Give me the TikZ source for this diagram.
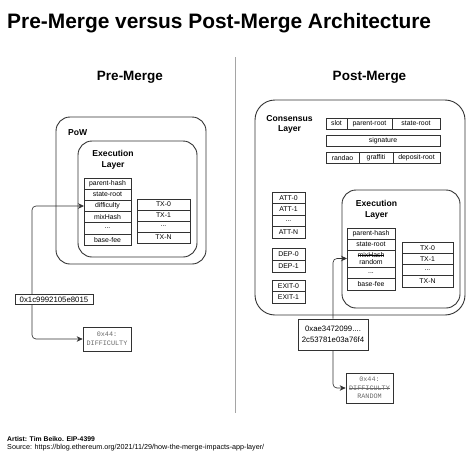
\documentclass[tikz,border=0pt]{standalone}
\usepackage{fontspec}
\setmainfont{Liberation Sans}
\setmonofont{Liberation Mono}
\usetikzlibrary{arrows.meta, positioning}
\definecolor{boxline}{RGB}{50,50,50}
\definecolor{divider}{RGB}{165,165,165}
\definecolor{opgray}{RGB}{105,105,105}
\newcommand{\strikeout}[1]{\mbox{\setbox0=\hbox{#1}\rlap{\rule[0.28em]{\wd0}{0.5pt}}\box0}}

\begin{document}
\begin{tikzpicture}[x=1pt, y=-1pt,
  field/.style={rectangle, draw=boxline, line width=0.65pt, minimum height=11.2pt,
                inner sep=0pt, outer sep=0pt, font=\fontsize{6.9}{7.5}\selectfont,
                align=center},
  layer/.style={rectangle, draw=boxline, line width=0.9pt, rounded corners=14pt},
  heading/.style={font=\bfseries\fontsize{8.6}{10.5}\selectfont, align=center, inner sep=0pt},
  colhead/.style={font=\bfseries\fontsize{13.5}{16}\selectfont, inner sep=0pt},
  hashbox/.style={rectangle, draw=boxline, line width=0.65pt, fill=white, inner sep=0pt,
                  font=\fontsize{7.8}{10.5}\selectfont, align=center},
  opbox/.style={rectangle, draw=boxline, line width=0.65pt, inner sep=0pt,
                font=\ttfamily\fontsize{6.8}{8.5}\selectfont, text=opgray, align=center},
  arrow/.style={-{Stealth[length=6pt, width=5.5pt]}, boxline, line width=0.65pt,
                rounded corners=4pt}
]
\useasboundingbox (0,0) rectangle (474,455);

% title and columns
\node[anchor=base west, inner sep=0pt, font=\bfseries\fontsize{20.9}{24}\selectfont]
  (title) at (7,28) {Pre-Merge versus Post-Merge Architecture};
\draw[divider, line width=1pt] (235,57) -- (235,413);
\node[colhead, anchor=base] (pre)  at (130,80)   {Pre-Merge};
\node[colhead, anchor=base] (post) at (369.5,80) {Post-Merge};

% pre-merge
\node[layer, minimum width=150pt, minimum height=147pt] (pow) at (131,190.5) {};
\node[heading, anchor=base west] (powlbl) at (68,135) {PoW};
\node[layer, minimum width=119pt, minimum height=116pt] (exL) at (137.5,199) {};
\node[heading, anchor=north] (exLlbl) at (113,150.5) {Execution\\Layer};

\node[field, minimum width=47pt, anchor=north] (phL) at (107.5,178) {parent-hash};
\node[field, minimum width=47pt, below=0pt of phL] (srL)  {state-root};
\node[field, minimum width=47pt, below=0pt of srL] (dfL)  {difficulty};
\node[field, minimum width=47pt, below=0pt of dfL] (mhL)  {mixHash};
\node[field, minimum width=47pt, below=0pt of mhL] (dotL) {...};
\node[field, minimum width=47pt, below=0pt of dotL] (bfL) {base-fee};

\node[field, minimum width=53pt, minimum height=11pt, anchor=north] (tx0L) at (163.5,199) {TX-0};
\node[field, minimum width=53pt, minimum height=11pt, below=0pt of tx0L] (tx1L) {TX-1};
\node[field, minimum width=53pt, minimum height=11pt, below=0pt of tx1L] (txdL) {...};
\node[field, minimum width=53pt, minimum height=11pt, below=0pt of txdL] (txnL) {TX-N};

\coordinate (lx) at (32,299.5);
\node[hashbox, minimum width=78pt, minimum height=10pt] (hashL) at (54,299.5) {0x1c9992105e8015};
\node[opbox, minimum width=48pt, minimum height=24pt] (opL) at (107,339) {0x44:\\DIFFICULTY};
\draw[arrow] (lx |- hashL.north) |- (dfL.west);
\draw[arrow] (lx |- hashL.south) |- (opL.west);

% post-merge
\node[layer, rounded corners=20pt, minimum width=210pt, minimum height=215pt] (cons) at (360,207.5) {};
\node[heading, anchor=north] (conslbl) at (289.5,115) {Consensus\\Layer};

\node[field, minimum width=21pt, minimum height=11pt, anchor=north west] (slot) at (326,118) {slot};
\node[field, minimum width=45pt, minimum height=11pt, right=0pt of slot] (prt) {parent-root};
\node[field, minimum width=48pt, minimum height=11pt, right=0pt of prt]  (srt) {state-root};
\node[field, minimum width=114pt, minimum height=11pt, anchor=north west] (sig) at (326,135.5) {signature};
\node[field, minimum width=33pt, minimum height=11pt, anchor=north west] (rnd) at (326,152.5) {randao};
\node[field, minimum width=34pt, minimum height=11pt, right=0pt of rnd] (graf) {graffiti};
\node[field, minimum width=47pt, minimum height=11pt, right=0pt of graf] (dep) {deposit-root};

\node[field, minimum width=33pt, minimum height=11.5pt, anchor=north] (att0) at (288.5,192) {ATT-0};
\node[field, minimum width=33pt, minimum height=11.5pt, below=0pt of att0] (att1) {ATT-1};
\node[field, minimum width=33pt, minimum height=11.5pt, below=0pt of att1] (attd) {...};
\node[field, minimum width=33pt, minimum height=11.5pt, below=0pt of attd] (attn) {ATT-N};
\node[field, minimum width=33pt, minimum height=12pt, anchor=north] (dep0) at (288.5,248) {DEP-0};
\node[field, minimum width=33pt, minimum height=12pt, below=0pt of dep0] (dep1) {DEP-1};
\node[field, minimum width=33pt, minimum height=11.5pt, anchor=north] (ex0) at (288.5,280) {EXIT-0};
\node[field, minimum width=33pt, minimum height=11.5pt, below=0pt of ex0] (ex1) {EXIT-1};

\node[layer, minimum width=118pt, minimum height=118pt] (exR) at (401,249) {};
\node[heading, anchor=north] (exRlbl) at (376.5,200.5) {Execution\\Layer};

\node[field, minimum width=48pt, minimum height=11pt, anchor=north] (phR) at (371,228) {parent-hash};
\node[field, minimum width=48pt, minimum height=11pt, below=0pt of phR] (srR) {state-root};
\node[field, minimum width=48pt, minimum height=17pt, below=0pt of srR] (mrR) {\strikeout{mixHash}\\[0.3pt]random};
\node[field, minimum width=48pt, minimum height=11.5pt, below=0pt of mrR] (dotR) {...};
\node[field, minimum width=48pt, minimum height=11.5pt, below=0pt of dotR] (bfR) {base-fee};

\node[field, minimum width=51pt, minimum height=11.25pt, anchor=north] (tx0R) at (427.5,242) {TX-0};
\node[field, minimum width=51pt, minimum height=11.25pt, below=0pt of tx0R] (tx1R) {TX-1};
\node[field, minimum width=51pt, minimum height=11.25pt, below=0pt of tx1R] (txdR) {...};
\node[field, minimum width=51pt, minimum height=11.25pt, below=0pt of txdR] (txnR) {TX-N};

\node[hashbox, minimum width=70pt, minimum height=31pt] (hashR) at (333,334.5) {0xae3472099....\\2c53781e03a76f4};
\node[opbox, minimum width=47pt, minimum height=30pt] (opR) at (369.5,388) {0x44:\\\strikeout{DIFFICULTY}\\RANDOM};
\draw[arrow] (hashR.north) |- (mrR.west);
\draw[arrow] (hashR.south) |- (opR.west);

% credits
\node[anchor=base west, inner sep=0pt, font=\bfseries\fontsize{6.8}{8}\selectfont]
  (artist) at (7,441.5) {Artist: Tim Beiko. EIP-4399};
\node[anchor=base west, inner sep=0pt, font=\fontsize{7.2}{8}\selectfont]
  (source) at (7,449.5) {Source: https://blog.ethereum.org/2021/11/29/how-the-merge-impacts-app-layer/};
\end{tikzpicture}
\end{document}
